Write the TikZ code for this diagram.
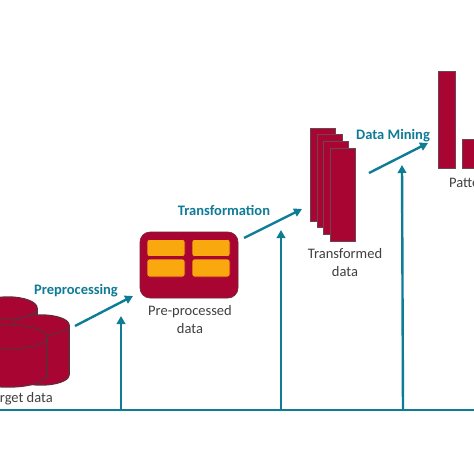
\documentclass[tikz,border=0pt]{standalone}
\usepackage{fontspec}
\setmainfont{Carlito}
\definecolor{crim}{HTML}{A90533}
\definecolor{crimedge}{HTML}{702438}
\definecolor{baredge}{HTML}{6A4552}
\definecolor{teal1}{HTML}{0F7C96}
\definecolor{amber}{HTML}{F9A80E}
\definecolor{lab}{HTML}{404040}
\usetikzlibrary{arrows.meta}
\tikzset{
 conn/.style={draw=teal1,line width=2.4pt,-{Triangle[length=8pt,width=8.5pt]}},
 base/.style={draw=teal1,line width=2.4pt},
 stage/.style={text=teal1,font=\fontsize{14.5}{16}\selectfont\bfseries,inner sep=0pt},
 lbl/.style={text=lab,font=\fontsize{14.5}{18.5}\selectfont,inner sep=0pt,align=center},
 bar/.style={fill=crim,draw=baredge,line width=1.3pt},
 cyl/.style={fill=crim,draw=crimedge,line width=1.4pt},
 cell/.style={fill=amber,draw=crim,line width=.6pt,rounded corners=2.5pt}
}
\newcommand{\cylinder}[5]{% cx, rx, top centre y, ry, height
 \path[cyl] (#1,#3+#5) ellipse[x radius=#2,y radius=#4];
 \fill[crim] (#1-#2,#3) rectangle (#1+#2,#3+#5);
 \draw[crimedge,line width=1.4pt] (#1-#2,#3) -- (#1-#2,#3+#5) (#1+#2,#3) -- (#1+#2,#3+#5);
 \path[cyl] (#1,#3) ellipse[x radius=#2,y radius=#4];
}
\begin{document}
\begin{tikzpicture}[x=1pt,y=-1pt]
\useasboundingbox[fill=white] (0,0) rectangle (474,474);
% base line and rising arrows
\coordinate (b0) at (0,410);
\coordinate (b1) at (474,410);
\coordinate (u1) at (121,410); \coordinate (v1) at (121,316);
\coordinate (u2) at (281,410); \coordinate (v2) at (281,230);
\coordinate (u3) at (403,410); \coordinate (v3) at (402,165);
\draw[base] (b0) -- (b1);
\draw[conn] (u1) -- (v1);
\draw[conn] (u2) -- (v2);
\draw[conn] (u3) -- (v3);
% target data
\begin{scope}
\clip (0,0) rectangle (474,474);
\cylinder{-12}{24}{322}{10}{40}
\cylinder{8}{29}{308}{11}{45}
\cylinder{41}{28}{325}{10}{50}
\cylinder{8}{39}{337}{12}{38}
\end{scope}
\node[lbl,anchor=base east] (tgt) at (53,402) {Target data};
% pre-processed
\node[fill=crim,draw=crimedge,line width=.6pt,rounded corners=10pt,minimum width=98pt,minimum height=66pt,inner sep=0pt] (pp) at (189,265) {};
\node[cell,minimum width=38pt,minimum height=17pt,inner sep=0pt] (c1) at (166,248) {};
\node[cell,minimum width=38pt,minimum height=17pt,inner sep=0pt] (c2) at (211,248) {};
\node[cell,minimum width=38pt,minimum height=18pt,inner sep=0pt] (c3) at (166,268) {};
\node[cell,minimum width=38pt,minimum height=18pt,inner sep=0pt] (c4) at (211,268) {};
\node[lbl,anchor=north] (pplab) at (190,305) {Pre-processed\\data};
% transformed
\foreach \n/\x/\t in {t1/310/128,t2/317/134,t3/323/141,t4/330/148}{
 \node[bar,anchor=north west,minimum width=25pt,minimum height=93pt,inner sep=0pt] (\n) at (\x,\t) {};
}
\node[lbl,anchor=north] (tlab) at (345,248) {Transformed\\data};
% patterns
\node[bar,anchor=north west,minimum width=17pt,minimum height=97pt,inner sep=0pt] (p1) at (438,71) {};
\node[bar,anchor=north west,minimum width=20pt,minimum height=29pt,inner sep=0pt] (p2) at (462,139) {};
\node[lbl,anchor=base west] (plab) at (449,187) {Patterns};
% stage arrows
\coordinate (a1s) at (75,326); \coordinate (a1e) at (133,296);
\coordinate (a2s) at (244,238); \coordinate (a2e) at (302,209);
\coordinate (a3s) at (369,173); \coordinate (a3e) at (428,143);
\draw[conn] (a1s) -- (a1e);
\draw[conn] (a2s) -- (a2e);
\draw[conn] (a3s) -- (a3e);
\node[stage,anchor=base] (s1) at (76,294) {Preprocessing};
\node[stage,anchor=base] (s2) at (224,215) {Transformation};
\node[stage,anchor=base] (s3) at (393,139) {Data Mining};
\end{tikzpicture}
\end{document}
